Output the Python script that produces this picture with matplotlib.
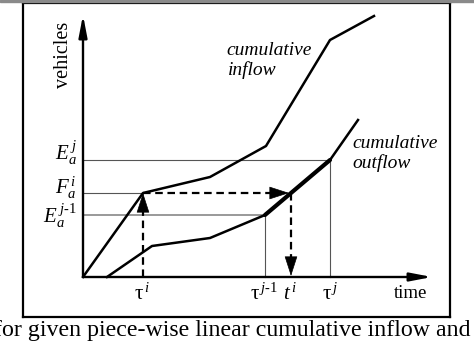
import matplotlib
matplotlib.use("Agg")
import matplotlib.pyplot as plt
from matplotlib.patches import Rectangle

plt.rcParams['font.family'] = ['Liberation Serif', 'DejaVu Serif']
plt.rcParams['mathtext.fontset'] = 'custom'
plt.rcParams['mathtext.rm'] = 'Liberation Serif'
plt.rcParams['mathtext.it'] = 'Liberation Serif:italic'

# Courbes cumulatives (unites arbitraires)
inflow_t = [0.0, 6.0, 12.7, 18.3, 24.7, 29.1]
inflow_v = [0.0, 8.4, 10.0, 13.1, 23.7, 26.1]
outflow_t = [2.4, 6.9, 12.7, 18.2, 24.7, 27.5]
outflow_v = [0.0, 3.1, 3.9, 6.2, 11.7, 15.7]

# Instants et niveaux de reference
tau_i = 6.0
tau_j1 = 18.2
tau_j = 24.7
t_i = 20.8
F_i = 8.4
E_j = 11.7
E_j1 = 6.2

x_labels = [r'$\mathrm{τ}^{\,i}$', r'$\mathrm{τ}^{\,j\text{-1}}$', r'$t^{\,i}$', r'$\mathrm{τ}^{\,j}$']
x_label_pos = [tau_i - 0.1, tau_j1 - 0.1, t_i - 0.1, tau_j]
y_labels = [r'$E_a^{\,j}$', r'$F_a^{\,i}$', r'$E_a^{\,j\text{-1}}$']
y_label_pos = [E_j, F_i - 0.1, E_j1 - 0.8]

fig = plt.figure(figsize=(4.74, 3.42), dpi=100)
ax = fig.add_axes([23 / 474, 25 / 342, 427 / 474, 314 / 342])
ax.set_xlim(-6.0, 36.7)
ax.set_ylim(-4.0, 27.4)
ax.set_xticks([])
ax.set_yticks([])
for s in ax.spines.values():
    s.set_linewidth(1.6)

# bande grise en haut
fig.patches.append(Rectangle((0, 1 - 2 / 342), 1, 2 / 342, transform=fig.transFigure,
                             color='#8a8a8a', zorder=0))

# axes avec fleches
ax_arrow = dict(arrowstyle='-|>,head_length=1.3,head_width=0.25', lw=1.7,
                color='black', shrinkA=0, shrinkB=0, mutation_scale=10)
ax.annotate('', xy=(34.9, 0), xytext=(0, 0), arrowprops=ax_arrow)
ax.annotate('', xy=(0, 26.2), xytext=(0, 0), arrowprops=ax_arrow)

# lignes fines de reference
ax.plot([0, tau_j], [E_j, E_j], color='#555555', lw=0.8, zorder=1)
ax.plot([tau_j, tau_j], [0, E_j], color='#555555', lw=0.8, zorder=1)
ax.plot([0, tau_j1], [E_j1, E_j1], color='#888888', lw=1.2, zorder=1)
ax.plot([tau_j1, tau_j1], [0, E_j1], color='#555555', lw=0.8, zorder=1)
ax.plot([0, tau_i], [F_i, F_i], color='#555555', lw=0.8, zorder=1)

# courbes
ax.plot(inflow_t, inflow_v, color='black', lw=1.8, zorder=3)
ax.plot(outflow_t, outflow_v, color='black', lw=1.8, zorder=3)
ax.plot(outflow_t[3:5], outflow_v[3:5], color='black', lw=3.0, zorder=3,
        solid_capstyle='round')

# fleches en pointilles
dash = (3.4, 2.1)
head = dict(arrowstyle='-|>,head_length=1.3,head_width=0.42', lw=0.5, color='black',
            shrinkA=0, shrinkB=0, mutation_scale=10)
ax.plot([tau_i, tau_i], [0, F_i - 1.5], color='black', lw=1.6, dashes=dash, zorder=2)
ax.annotate('', xy=(tau_i, F_i), xytext=(tau_i, F_i - 1.6), arrowprops=head, zorder=4)
ax.plot([tau_i, t_i - 1.4], [F_i, F_i], color='black', lw=1.6, dashes=dash, zorder=2)
ax.annotate('', xy=(t_i - 0.2, F_i), xytext=(t_i - 1.7, F_i), arrowprops=head, zorder=4)
ax.plot([t_i, t_i], [F_i, 1.6], color='black', lw=1.6, dashes=dash, zorder=2)
ax.annotate('', xy=(t_i, 0.1), xytext=(t_i, 1.8), arrowprops=head, zorder=4)

# etiquettes
for lab, x in zip(x_labels, x_label_pos):
    ax.text(x, -2.3, lab, ha='center', va='baseline', fontsize=15)
ax.text(32.8, -2.1, 'time', ha='center', va='baseline', fontsize=13.5)
for lab, y in zip(y_labels, y_label_pos):
    ax.text(-0.6, y, lab, ha='right', va='baseline', fontsize=15)
ax.text(-2.0, 22.2, 'vehicles', rotation=90, ha='center', va='center', fontsize=14.5)

ax.text(14.3, 22.2, 'cumulative', style='italic', ha='left', va='baseline', fontsize=14)
ax.text(14.5, 20.2, 'inflow', style='italic', ha='left', va='baseline', fontsize=14)
ax.text(26.9, 12.9, 'cumulative', style='italic', ha='left', va='baseline', fontsize=14)
ax.text(26.9, 10.9, 'outflow', style='italic', ha='left', va='baseline', fontsize=14)

fig.text(-6 / 474, 6 / 342, 'for given piece-wise linear cumulative inflow and outflow',
         ha='left', va='baseline', fontsize=17.2)

fig.savefig('out.png', dpi=100)
